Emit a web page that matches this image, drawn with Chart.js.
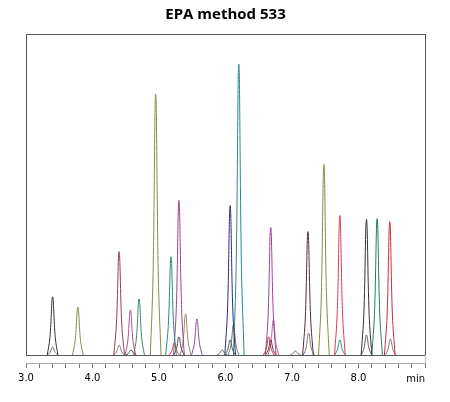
<!DOCTYPE html>
<html>
<head>
<script src="https://cdn.jsdelivr.net/npm/chart.js@4/dist/chart.umd.min.js"></script>
<style>body{margin:0;background:#fff}#wrap{width:450px;height:402px}</style>
</head>
<body>
<div id="wrap"><canvas id="mychart"></canvas></div>
<script>
// peak retention times (min), heights (detector units), colors
const peakTimes   = [3.40, 3.40, 3.78, 4.40, 4.40, 4.57, 4.58, 4.70, 4.95, 5.18, 5.23, 5.30, 5.30, 5.40, 5.57, 5.95, 6.07, 6.07, 6.12, 6.20, 6.65, 6.68, 6.68, 6.72, 7.05, 7.24, 7.25, 7.48, 7.72, 7.72, 8.12, 8.12, 8.28, 8.47, 8.48]
const peakHeights = [58, 8, 48, 103, 10, 45, 5, 56, 260, 98, 12, 154, 18, 41, 36, 5, 149, 15, 30, 290, 18, 127, 15, 35, 4, 123, 22, 190, 139, 15, 135, 20, 136, 133, 16]
const peakColors  = ['#333','#777','#8a8a5a','#9a3a5a','#777','#b04a8a','#444','#3a8a6a','#8a8a50','#2a8a7a','#c04040','#a0408a','#444','#8a8a60','#8a4a9a','#666','#2a2a7a','#555','#777','#2a8a8a','#c03030','#a0409a','#444','#b06090','#777','#5a2a3a','#777','#8a8a40','#d04050','#3a8a8a','#333','#666','#2a7a6a','#c03040','#777']
const halfWidth = 0.08

const datasets = peakTimes.map((t, i) => ({
    data: [{x: t - halfWidth, y: 0}, {x: t - halfWidth * 0.5, y: peakHeights[i] * 0.3}, {x: t, y: peakHeights[i]}, {x: t + halfWidth * 0.5, y: peakHeights[i] * 0.3}, {x: t + halfWidth, y: 0}],
    borderColor: peakColors[i],
    borderWidth: 1,
    pointRadius: 0,
    tension: 0.4,
}))

const frame = {
    id: 'frame',
    afterDraw(chart) {
        const c = chart.ctx, a = chart.chartArea
        const y0 = chart.scales.y.getPixelForValue(0)
        c.save()
        c.strokeStyle = '#555'
        c.lineWidth = 1
        c.strokeRect(a.left + 0.5, a.top + 0.5, a.right - a.left, y0 - a.top)
        c.strokeStyle = '#bbb'
        c.beginPath()
        c.moveTo(a.right + 0.5, y0); c.lineTo(a.right + 0.5, a.bottom)
        c.stroke()
        c.fillStyle = '#000'
        c.font = '10px "DejaVu Sans"'
        c.textAlign = 'right'
        c.fillText('min', a.right, a.bottom + 19)
        c.restore()
    }
}

const ctx = document.getElementById('mychart')
new Chart(ctx, {
    type: 'line',
    data: {datasets: datasets},
    plugins: [frame],
    options: {
        animation: false,
        responsive: true,
        maintainAspectRatio: false,
        layout: {padding: {left: 26, right: 25, top: 0, bottom: 14}},
        scales: {
            x: {
                type: 'linear',
                min: 3.0,
                max: 9.0,
                grid: {drawOnChartArea: false, tickLength: 5, color: '#777'},
                border: {color: '#aaa'},
                ticks: {
                    stepSize: 0.2,
                    autoSkip: false,
                    maxRotation: 0,
                    padding: 4,
                    color: '#000',
                    font: {size: 10, family: 'DejaVu Sans'},
                    callback: v => (Math.abs(v - Math.round(v)) < 1e-6 && v < 8.5) ? v.toFixed(1) : '',
                },
            },
            y: {display: false, min: -8, max: 320},
        },
        plugins: {
            legend: {display: false},
            tooltip: {enabled: false},
            title: {
                display: true,
                text: 'EPA method 533',
                color: '#000',
                font: {size: 15, weight: 'bold', family: 'Open Sans'},
                padding: {top: 6, bottom: 10},
            },
        },
    }
})
</script>
</body>
</html>
